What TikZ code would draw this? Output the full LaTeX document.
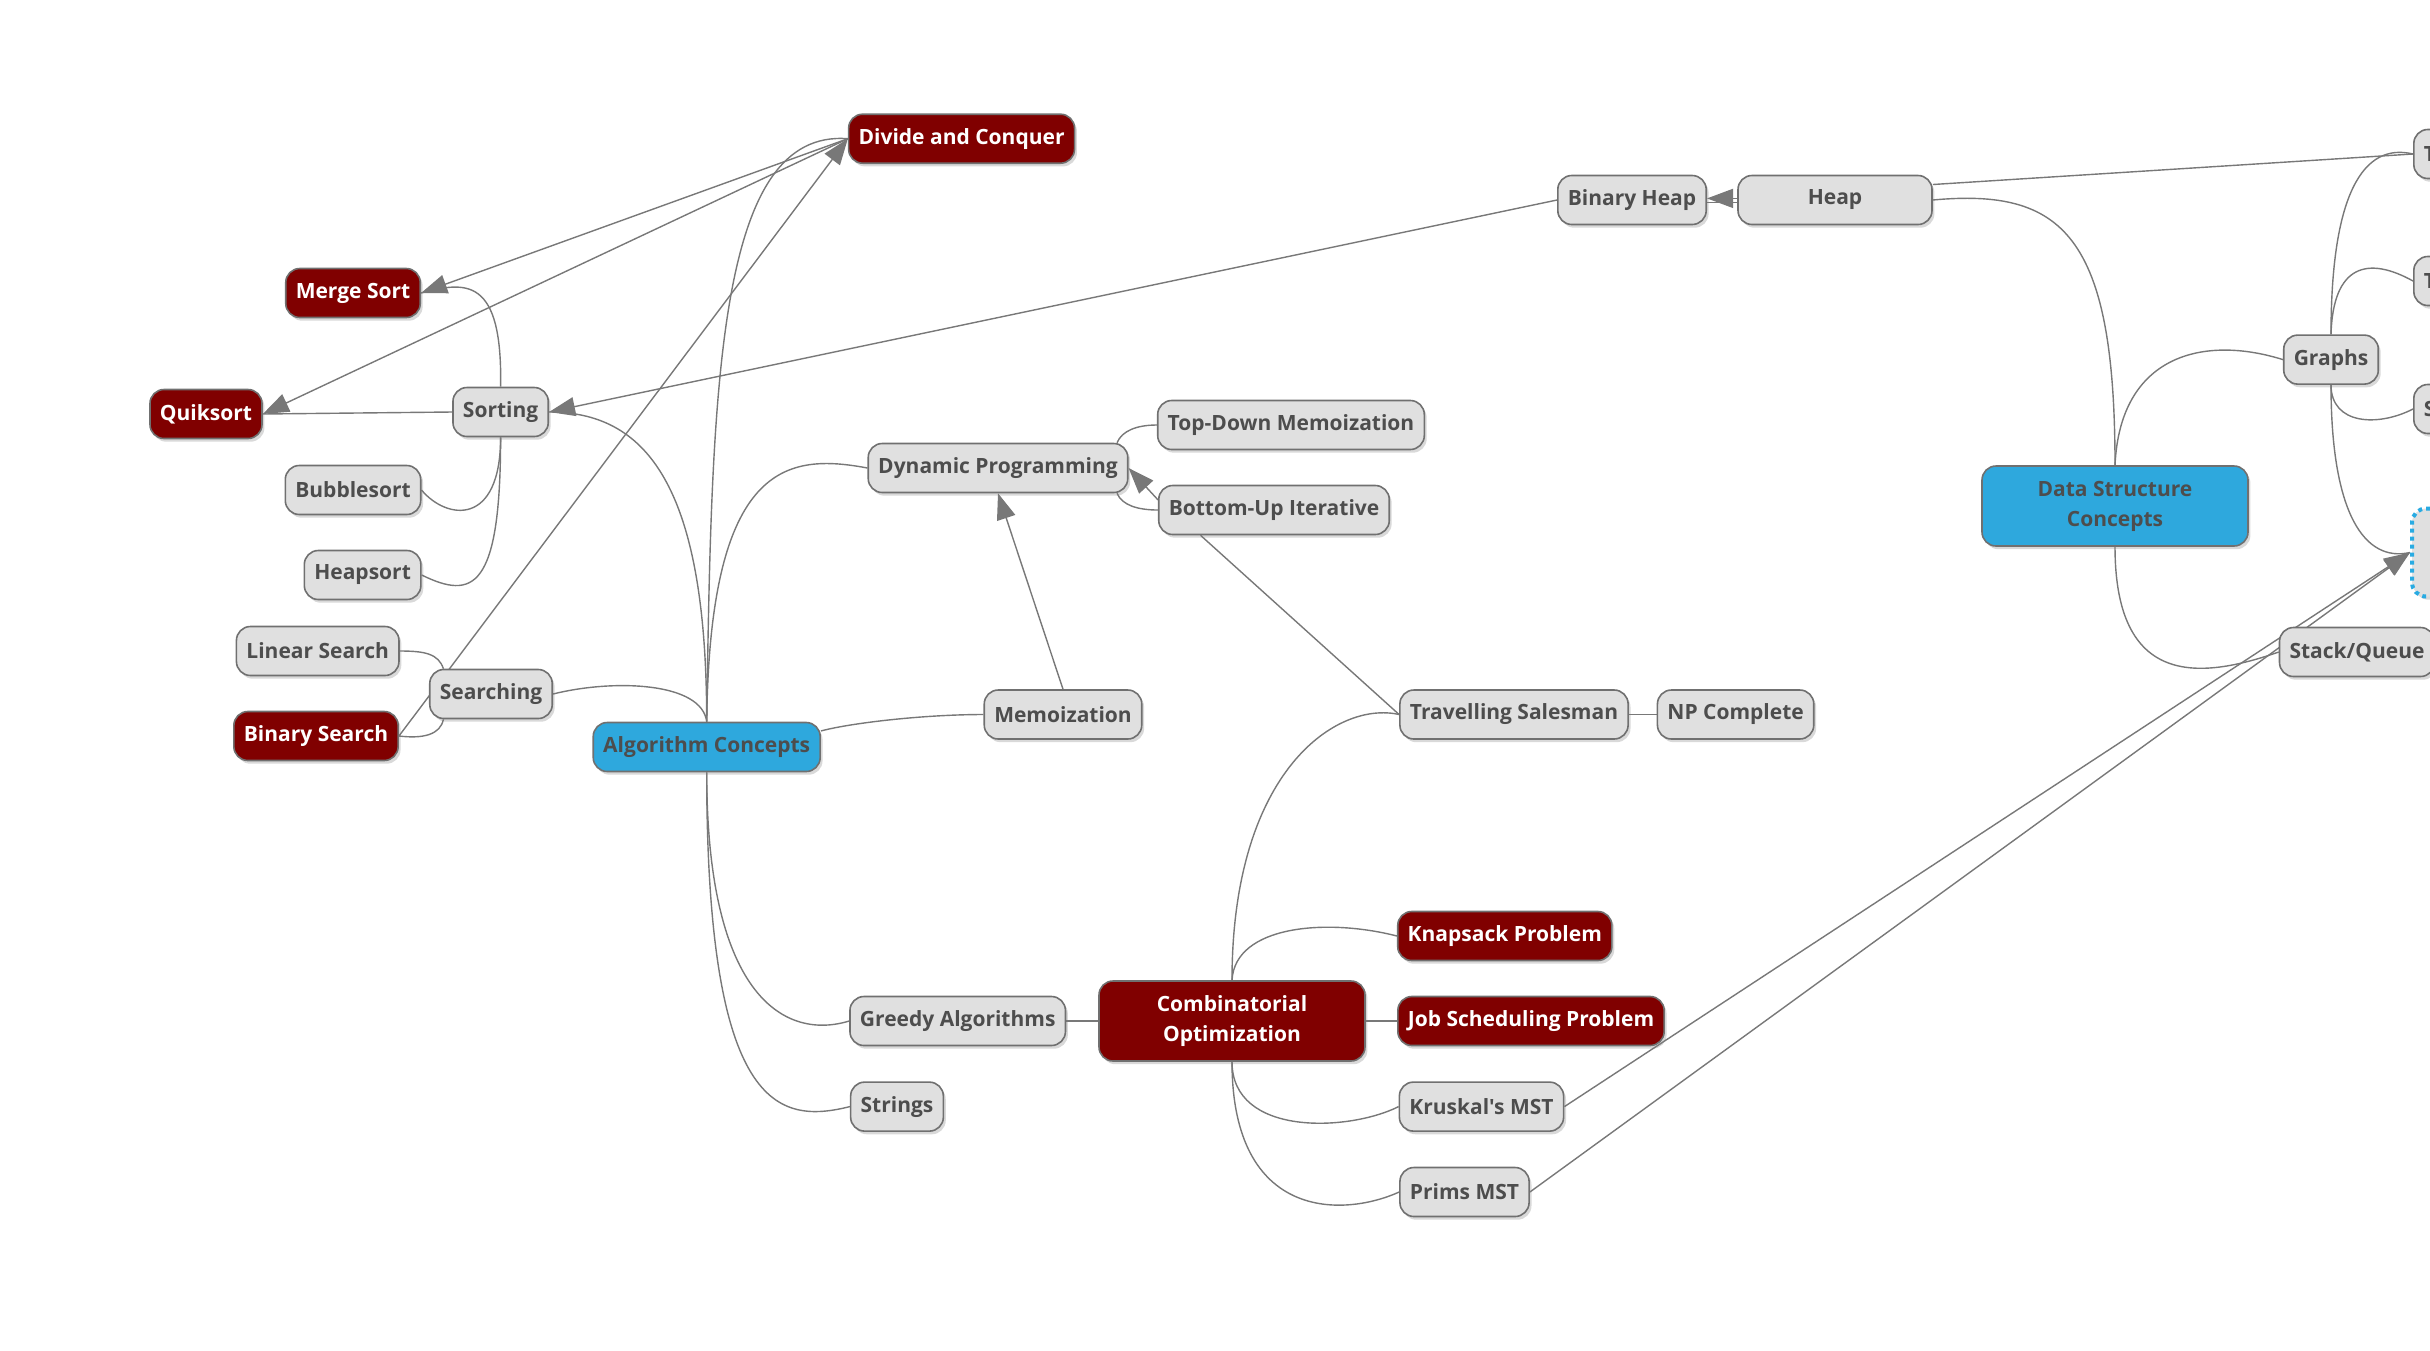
\documentclass[tikz,border=0pt]{standalone}
\usepackage{fontspec}
\setmainfont{Open Sans}[Ligatures=TeXOff]
\usepackage{tikz}
\usetikzlibrary{arrows.meta}
\usetikzlibrary{shadows}
\usetikzlibrary{backgrounds}
\definecolor{topicfill}{RGB}{224,224,224}
\definecolor{topicline}{RGB}{112,112,112}
\definecolor{topictext}{RGB}{77,77,77}
\definecolor{keyred}{RGB}{128,0,0}
\definecolor{centralblue}{RGB}{46,168,221}
\definecolor{dotblue}{RGB}{41,171,226}
\definecolor{linkgray}{RGB}{120,120,120}
\newcommand\mapfont{\fontsize{10.5}{15}\selectfont\bfseries}
\tikzset{
  topic/.style={draw=topicline, fill=topicfill, text=topictext, line width=0.8pt,
    rounded corners=7pt, inner xsep=5pt, inner ysep=0pt, minimum height=24.5pt,
    font=\mapfont, drop shadow={shadow xshift=1.2pt, shadow yshift=-1.6pt, opacity=0.3}},
  keytopic/.style={topic, fill=keyred, text=white},
  central/.style={topic, fill=centralblue},
  twolines/.style={align=center, minimum width=133pt, minimum height=40pt},
  branch/.style={draw=linkgray, line width=0.7pt},
  link/.style={branch, -{Triangle[length=13pt,width=9.5pt]}},
}

\begin{document}
\begin{tikzpicture}[x=0.5pt,y=-0.5pt]
    \useasboundingbox (0,0) rectangle (2430,1350);
    % algorithm side
    \node[keytopic] (divide) at (961.6,138.7) {Divide and Conquer};
    \node[keytopic] (mergesort) at (353,293) {Merge Sort};
    \node[keytopic] (quiksort) at (206,414) {Quiksort};
    \node[topic] (sorting) at (500.6,412) {Sorting};
    \node[topic] (bubblesort) at (353,490) {Bubblesort};
    \node[topic] (heapsort) at (362.6,575) {Heapsort};
    \node[topic] (linsearch) at (317.7,651) {Linear Search};
    \node[topic] (searching) at (491,694) {Searching};
    \node[keytopic] (binsearch) at (316,736) {Binary Search};
    \node[central] (algo) at (706.7,747) {Algorithm Concepts};
    \node[topic] (dynprog) at (998,468) {Dynamic Programming};
    \node[topic] (topdown) at (1291,425) {Top-Down Memoization};
    \node[topic] (bottomup) at (1274,510) {Bottom-Up Iterative};
    \node[topic] (memo) at (1063,714.5) {Memoization};
    \node[topic] (salesman) at (1514,714.5) {Travelling Salesman};
    \node[topic] (npcomplete) at (1735.6,714.5) {NP Complete};
    \node[keytopic] (knapsack) at (1504.8,936) {Knapsack Problem};
    \node[keytopic, twolines] (combopt) at (1232,1021) {Combinatorial\\Optimization};
    \node[keytopic] (jobsched) at (1531,1021) {Job Scheduling Problem};
    \node[topic] (greedy) at (957.7,1021) {Greedy Algorithms};
    \node[topic] (strings) at (897,1106.6) {Strings};
    \node[topic] (kruskal) at (1481.5,1106.6) {Kruskal's MST};
    \node[topic] (prims) at (1464.5,1192) {Prims MST};
    % data structure side
    \node[topic] (binheap) at (1632,200) {Binary Heap};
    \node[topic, minimum width=97pt] (heap) at (1835,200) {Heap};
    \node[central, twolines] (datastruct) at (2115,506) {Data Structure\\Concepts};
    \node[topic] (graphs) at (2331,359.6) {Graphs};
    \node[topic] (stackqueue) at (2357,652) {Stack/Queue};
    \node[topic, anchor=west, text width=40pt] (tleafa) at (2413,154) {T};
    \node[topic, anchor=west, text width=40pt] (tleafb) at (2413,281) {T};
    \node[topic, anchor=west, text width=40pt] (sleaf) at (2413,409) {S};
    \node[topic, anchor=west, draw=dotblue, line width=2pt, dash pattern=on 2pt off 2pt,
        minimum width=80pt, minimum height=44pt] (dotleaf) at (2410,552.5) {};

    \begin{scope}[on background layer]
        % branches
        \draw[branch] (algo.north) .. controls +(5,-343) and +(-130,-10) .. (divide.west);
        \draw[branch] (algo.north) .. controls +(0,-240) and +(95,0) .. (sorting.east);
        \draw[branch] (algo.north) .. controls +(-5,-40) and +(60,-15) .. (searching.east);
        \draw[branch] (algo.north) .. controls +(3,-260) and +(-80,-15) .. (dynprog.west);
        \draw[branch] (algo.8) .. controls +(30,-8) and +(-60,0) .. (memo.west);
        \draw[branch] (algo.south) .. controls +(0,228) and +(-62,19) .. (greedy.west);
        \draw[branch] (algo.south) .. controls +(0,338) and +(-72,18) .. (strings.west);
        \draw[branch] (sorting.north) .. controls +(2,-110) and +(45,-12) .. (mergesort.east);
        \draw[branch] (sorting.west) -- (quiksort.east);
        \draw[branch] (sorting.south) .. controls +(0,90) and +(25,30) .. (bubblesort.east);
        \draw[branch] (sorting.south) .. controls +(0,153) and +(51,25) .. (heapsort.east);
        \draw[branch] (searching.152) .. controls +(-5,-15) and +(25,0) .. (linsearch.east);
        \draw[branch] (searching.208) .. controls +(-3,15) and +(25,3) .. (binsearch.east);
        \draw[branch] (dynprog.12) .. controls +(5,-12) and +(-20,0) .. (topdown.west);
        \draw[branch] (dynprog.-12) .. controls +(5,12) and +(-20,0) .. (bottomup.west);
        \draw[branch] (greedy) -- (combopt);
        \draw[branch] (combopt.north) .. controls +(0,-210) and +(-62,-14) .. (salesman.west);
        \draw[branch] (combopt.north) .. controls +(3,-55) and +(-70,-18) .. (knapsack.west);
        \draw[branch] (combopt) -- (jobsched);
        \draw[branch] (combopt.south) .. controls +(0,75) and +(-50,25) .. (kruskal.west);
        \draw[branch] (combopt.south) .. controls +(0,160) and +(-55,25) .. (prims.west);
        \draw[branch] (salesman) -- (npcomplete);
        \draw[branch] (datastruct.north) .. controls +(0,-230) and +(130,-12) .. (heap.east);
        \draw[branch] (datastruct.north) .. controls +(5,-110) and +(-80,-25) .. (graphs.west);
        \draw[branch] (datastruct.south) .. controls +(0,140) and +(-80,28) .. (stackqueue.west);
        \draw[branch] ([yshift=-1.2pt]heap.west) -- ([yshift=-1.2pt]binheap.east);
        \draw[branch] (graphs.north) .. controls +(0,-140) and +(-50,-12) .. (tleafa.west);
        \draw[branch] (graphs.north) .. controls +(2,-70) and +(-45,-25) .. (tleafb.west);
        \draw[branch] (graphs.south) .. controls +(0,40) and +(-35,18) .. (sleaf.west);
        \draw[branch] (graphs.south) .. controls +(0,130) and +(-45,10) .. (dotleaf.west);
        % cross links
        \draw[link] (divide.west) -- (mergesort.east);
        \draw[link] (divide.west) -- (quiksort.east);
        \draw[link] (binsearch.east) -- (divide.west);
        \draw[link] (binheap.west) -- (sorting.east);
        \draw[link] ([yshift=0.8pt]heap.west) -- ([yshift=0.8pt]binheap.east);
        \draw[branch] (heap.9) -- (tleafa.west);
        \draw[link] (bottomup.175) -- (dynprog.east);
        \draw[link] (memo.north) -- (dynprog.south);
        \draw[branch] (bottomup.199) -- (salesman.west);
        \draw[link] (kruskal.east) -- (dotleaf.west);
        \draw[link] (prims.east) -- (dotleaf.west);
    \end{scope}
\end{tikzpicture}
\end{document}
